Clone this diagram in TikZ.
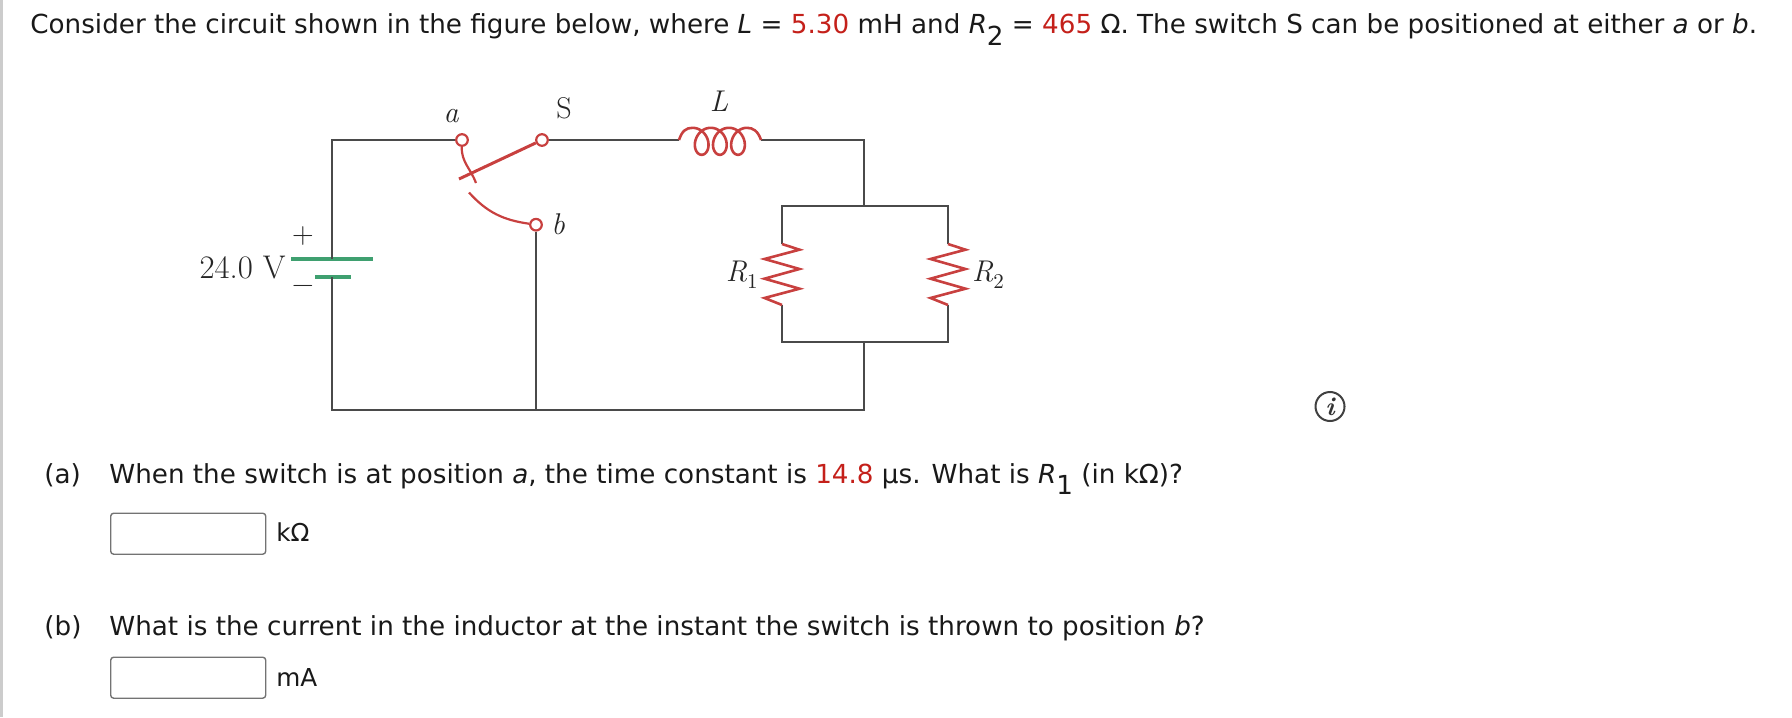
\documentclass[tikz,border=0pt]{standalone}
\usepackage{fontspec}
\newfontfamily\qfont{DejaVu Sans}
\definecolor{wirecol}{HTML}{4A4A4A}
\definecolor{partcol}{HTML}{C8403F}
\definecolor{battcol}{HTML}{3FA070}
\definecolor{valcol}{HTML}{C4201A}
\newcommand{\lowsub}[1]{\raisebox{-0.42em}{#1}}
\tikzstyle{wire} = [draw=wirecol,line width=1.1pt,line join=miter]
\tikzstyle{part} = [draw=partcol,line width=1.3pt]
\tikzstyle{plate} = [draw=battcol,line width=1.7pt]
\tikzstyle{term} = [circle,draw=partcol,fill=white,line width=1.1pt,inner sep=0pt,minimum size=5.8pt]
\tikzstyle{qtext} = [anchor=base west,inner sep=0pt,font=\qfont\fontsize{13.1}{15}\selectfont,text=black!90]
\tikzstyle{unit} = [anchor=base west,inner sep=0pt,font=\qfont\fontsize{12.35}{15}\selectfont,text=black!90]
\tikzstyle{fig} = [inner sep=0pt,text=black!85,font=\fontsize{15}{17}\selectfont]
\tikzstyle{figit} = [inner sep=0pt,text=black!85,font=\itshape\fontsize{15}{17}\selectfont]
\tikzstyle{ansbox} = [draw=black!55,line width=0.7pt,rounded corners=1.5pt,anchor=north west,minimum width=77.5pt,minimum height=20.5pt,inner sep=0pt]
\begin{document}
\begin{tikzpicture}[x=0.5pt,y=-0.5pt]
        \useasboundingbox (0,0) rectangle (1792,717);
        \fill[black!20] (0,0) rectangle (2.5,717);

        % question text
        \node[qtext] at (30,34) (head) {Consider the circuit shown in the figure below, where \textit{L} = \textcolor{valcol}{5.30} mH and \textit{R}\lowsub{2} = \textcolor{valcol}{465} Ω. The switch S can be positioned at either \textit{a} or \textit{b}.};
        \node[qtext] at (44,483.5) (parta) {(a)};
        \node[qtext] at (109,483.5) (qa) {When the switch is at position \textit{a}, the time constant is \textcolor{valcol}{14.8} μs. What is \textit{R}\lowsub{1} (in kΩ)?};
        \node[ansbox] at (110,512.5) (boxa) {};
        \node[unit] at (276,541.7) (unita) {kΩ};
        \node[qtext] at (44,635) (partb) {(b)};
        \node[qtext] at (109,635) (qb) {What is the current in the inductor at the instant the switch is thrown to position \textit{b}?};
        \node[ansbox] at (110,656.5) (boxb) {};
        \node[unit] at (276,686) (unitb) {mA};

        % info mark
        \node[circle,draw=black!75,line width=1pt,minimum size=14.5pt,inner sep=0pt,font=\bfseries\itshape\fontsize{13}{13}\selectfont,text=black!80] at (1330,406.5) (info) {i};

        % corners and junctions
        \coordinate (topleft) at (332,140);
        \coordinate (botleft) at (332,410);
        \coordinate (botmid) at (536,410);
        \coordinate (botright) at (864,410);
        \coordinate (topright) at (864,140);
        \coordinate (jtop) at (864,206);
        \coordinate (jbot) at (864,342);
        \coordinate (boxtl) at (782,206);
        \coordinate (boxtr) at (948,206);
        \coordinate (boxbl) at (782,342);
        \coordinate (boxbr) at (948,342);
        \coordinate (battp) at (332,259);
        \coordinate (battm) at (332,277);
        \coordinate (Lin) at (679,140);
        \coordinate (Lout) at (761,140);
        \coordinate (Ronetop) at (782,244);
        \coordinate (Ronebot) at (782,305);
        \coordinate (Rtwotop) at (948,244);
        \coordinate (Rtwobot) at (948,305);

        % battery plates
        \coordinate (longl) at (291,259);
        \coordinate (longr) at (373,259);
        \coordinate (shortl) at (315,277);
        \coordinate (shortr) at (351,277);
        \draw[plate] (longl) -- (longr);
        \draw[plate] (shortl) -- (shortr);

        % switch ends
        \node[term] at (462,140) (a) {};
        \node[term] at (542,140) (S) {};
        \node[term] at (536,224.7) (b) {};

        % wires
        \draw[wire] (battp) -- (topleft) -- (a);
        \draw[wire] (battm) -- (botleft) -- (botright) -- (jbot);
        \draw[wire] (b) -- (botmid);
        \draw[wire] (S) -- (Lin);
        \draw[wire] (Lout) -- (topright) -- (jtop);
        \draw[wire] (Ronetop) -- (boxtl) -- (boxtr) -- (Rtwotop);
        \draw[wire] (Ronebot) -- (boxbl) -- (boxbr) -- (Rtwobot);

        % switch
        \coordinate (bladeend) at (459,179);
        \coordinate (tickend) at (476,183);
        \coordinate (arcstart) at (469,192.5);
        \draw[part,line width=1.5pt] (S) -- (bladeend);
        \draw[part,line width=1.1pt] (a) to [out=268, in=110] (tickend);
        \draw[part,line width=1.1pt] (arcstart) to [out=-48, in=172] (b);

        % inductor
        \draw[part,line join=round] (Lin) .. controls (682,131) and (686,127.8) .. (692.6,127.8) -- plot[domain=0:18.85,samples=140,smooth] ({692.6+2.89*\x+11*sin(\x r)},{141.3-13.5*cos(\x r)}) .. controls (753,127.8) and (758,131) .. (Lout);

        % resistors
        \draw[part,line join=miter] (Ronetop) -- ++(17.5,5.7) -- ++(-35,9.3) -- ++(35,10) -- ++(-35,9.7) -- ++(35,10) -- ++(-35,9.3) -- (Ronebot);
        \draw[part,line join=miter] (Rtwotop) -- ++(17.5,5.7) -- ++(-35,9.3) -- ++(35,10) -- ++(-35,9.7) -- ++(35,10) -- ++(-35,9.3) -- (Rtwobot);

        % labels
        \node[figit] at (451,116) (alabel) {a};
        \node[fig] at (564,108) (Slabel) {S};
        \node[figit] at (558,224.7) (blabel) {b};
        \node[figit] at (719,101.7) (Llabel) {L};
        \node[fig,anchor=east,font=\fontsize{16.4}{18}\selectfont] at (286,268) (vlabel) {24.0 V};
        \node[fig] at (303,236) (plus) {+};
        \node[fig] at (303,289.7) (minus) {−};
        \node[fig] at (741.7,275) (Ronelabel) {\textit{R}\raisebox{-0.25em}{\fontsize{10.5}{11}\selectfont 1}};
        \node[fig] at (988,275) (Rtwolabel) {\textit{R}\raisebox{-0.25em}{\fontsize{10.5}{11}\selectfont 2}};
\end{tikzpicture}
\end{document}
